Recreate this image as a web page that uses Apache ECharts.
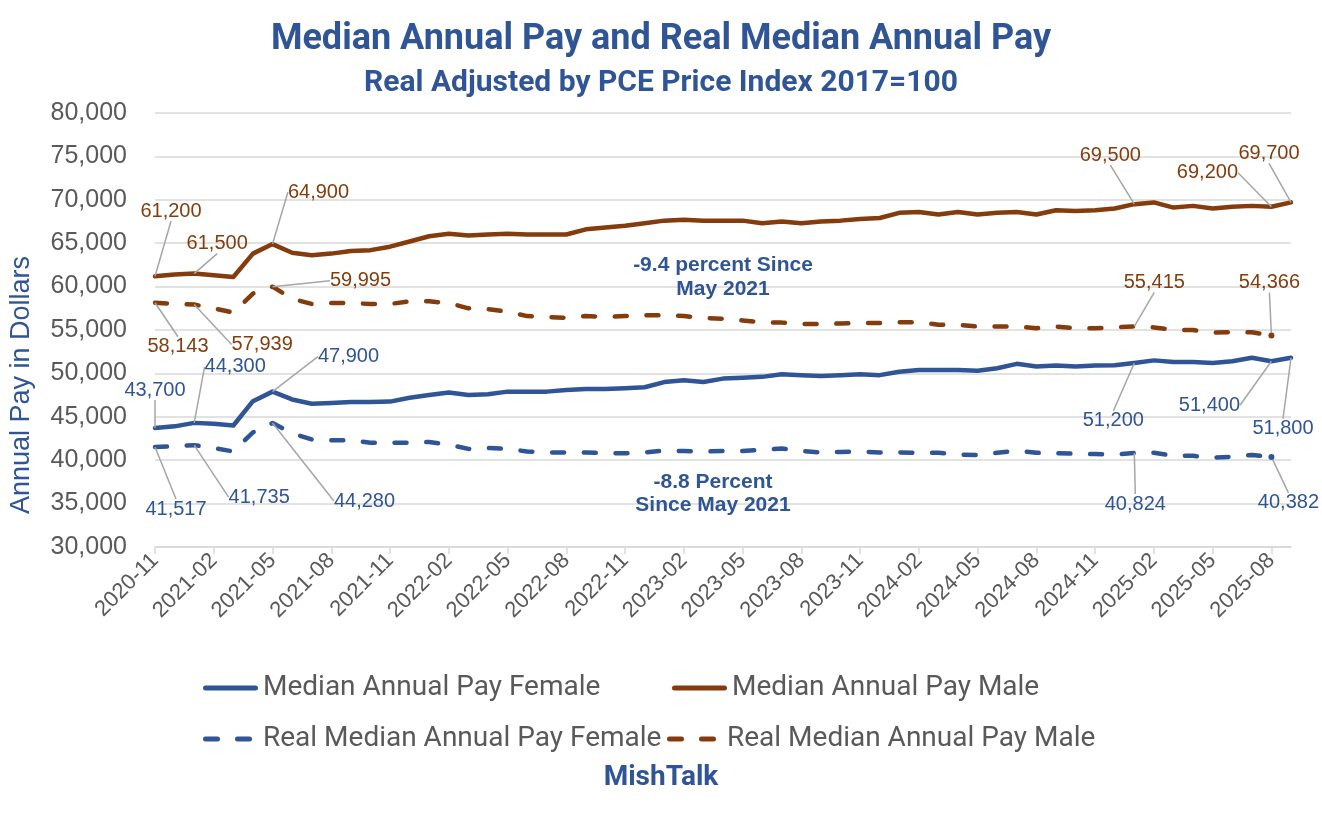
<!DOCTYPE html>
<html>
<head>
<meta charset="utf-8">
<title>Median Annual Pay and Real Median Annual Pay</title>
<script src="https://cdn.jsdelivr.net/npm/echarts@6/dist/echarts.min.js"></script>
<style>
  html, body { margin: 0; padding: 0; background: #fff; }
  #chart { width: 1322px; height: 815px; }
</style>
</head>
<body>
<div id="chart"></div>
<script>
// months on the x axis
const months = [
  "2020-11", "2020-12", "2021-01", "2021-02", "2021-03", "2021-04", "2021-05", "2021-06",
  "2021-07", "2021-08", "2021-09", "2021-10", "2021-11", "2021-12", "2022-01", "2022-02",
  "2022-03", "2022-04", "2022-05", "2022-06", "2022-07", "2022-08", "2022-09", "2022-10",
  "2022-11", "2022-12", "2023-01", "2023-02", "2023-03", "2023-04", "2023-05", "2023-06",
  "2023-07", "2023-08", "2023-09", "2023-10", "2023-11", "2023-12", "2024-01", "2024-02",
  "2024-03", "2024-04", "2024-05", "2024-06", "2024-07", "2024-08", "2024-09", "2024-10",
  "2024-11", "2024-12", "2025-01", "2025-02", "2025-03", "2025-04", "2025-05", "2025-06",
  "2025-07", "2025-08", "2025-09",
];

// median annual pay, dollars
const payFemale = [
  43700, 43900, 44300, 44200, 44000, 46800, 47900, 47000, 46500, 46600, 46700, 46700,
  46750, 47200, 47500, 47800, 47500, 47600, 47900, 47900, 47900, 48100, 48200, 48200,
  48300, 48400, 49000, 49200, 49000, 49400, 49500, 49600, 49900, 49800, 49700, 49800,
  49900, 49800, 50200, 50400, 50400, 50400, 50300, 50600, 51100, 50800, 50900, 50800,
  50900, 50950, 51200, 51500, 51300, 51300, 51200, 51400, 51800, 51400, 51800,
];
const payMale = [
  61200, 61400, 61500, 61300, 61100, 63800, 64900, 63900, 63600, 63800, 64100, 64200,
  64600, 65200, 65800, 66100, 65900, 66000, 66100, 66000, 66000, 66000, 66600, 66800,
  67000, 67300, 67600, 67700, 67600, 67600, 67600, 67300, 67500, 67300, 67500, 67600,
  67800, 67900, 68500, 68600, 68300, 68600, 68300, 68500, 68600, 68300, 68800, 68700,
  68800, 69000, 69500, 69700, 69100, 69300, 69000, 69200, 69300, 69200, 69700,
];
// real median annual pay (PCE 2017=100), no value yet for the last month
const realFemale = [
  41517, 41600, 41735, 41400, 41000, 43200, 44280, 43100, 42400, 42300, 42300, 42000,
  42000, 42000, 42100, 41800, 41300, 41400, 41300, 41000, 40900, 40900, 40900, 40800,
  40800, 40900, 41100, 41050, 41000, 41050, 41050, 41200, 41350, 41050, 40900, 40950,
  41000, 40900, 40900, 40850, 40850, 40650, 40600, 40850, 41100, 40850, 40800, 40750,
  40700, 40650, 40824, 40850, 40500, 40500, 40300, 40400, 40600, 40382, null,
];
const realMale = [
  58143, 58000, 57939, 57500, 57000, 59200, 59995, 58600, 58000, 58100, 58100, 58000,
  58000, 58300, 58300, 58100, 57500, 57400, 57100, 56600, 56500, 56400, 56600, 56500,
  56600, 56700, 56700, 56600, 56400, 56300, 56100, 55900, 55850, 55700, 55700, 55750,
  55800, 55800, 55900, 55900, 55600, 55600, 55400, 55400, 55400, 55200, 55400, 55200,
  55200, 55300, 55415, 55300, 55000, 55000, 54700, 54750, 54750, 54366, null,
];

const yTicks = { min: 30000, max: 80000, step: 5000 };

const seriesNames = [
  "Median Annual Pay Female",
  "Median Annual Pay Male",
  "Real Median Annual Pay Female",
  "Real Median Annual Pay Male",
];

// which points carry a value label, and where the label sits relative to the point (px)
const labelOffsets = [
  { 0: [0, -38], 2: [41, -56], 6: [76, -35], 50: [-21, 58], 57: [-62, 44], 58: [-8, 71] },
  { 0: [16, -65], 2: [23, -30], 6: [46, -52], 50: [-24, -49], 57: [-64, -34], 58: [-22, -49] },
  { 0: [21, 62], 2: [65, 52], 6: [92, 78], 50: [1, 51], 57: [17, 46] },
  { 0: [23, 44], 2: [68, 40], 6: [88, -6], 50: [20, -44], 57: [-2, -53] },
];

const BLUE = "#2F5597";
const BROWN = "#843C0C";
const GREY_TEXT = "#595959";
const GRID = "#D9D9D9";
const LEADER = "#A6A6A6";

// legend keys: a thick bar, or two short dashes
const ICON_SOLID = "path://M2.5,0h50a2.5,2.5 0 0 1 0,5h-50a2.5,2.5 0 0 1 0,-5z";
const ICON_DASH = "path://M2.5,0h12a2.5,2.5 0 0 1 0,5h-12a2.5,2.5 0 0 1 0,-5z M34.5,0h12a2.5,2.5 0 0 1 0,5h-12a2.5,2.5 0 0 1 0,-5z M55,0v5z";

const chart = echarts.init(document.getElementById("chart"));

function makeSeries(idx, values, color, dashed) {
  const offs = labelOffsets[idx];
  return {
    name: seriesNames[idx],
    type: "line",
    data: values.map(function (v, i) {
      if (offs[i] === undefined) return v;
      // labelled points get an (almost) invisible symbol to hang the label on;
      // the real series end in a small dot in the original
      return {
        value: v,
        symbol: "circle",
        symbolSize: dashed && i === 57 ? 6 : 0.01,
        label: { show: true },
      };
    }),
    symbol: "none",
    showSymbol: true,
    smooth: false,
    z: 3,
    lineStyle: {
      color: color,
      width: 4.5,
      type: dashed ? [12, 19.7] : "solid",
      cap: "round",
      join: "round",
    },
    itemStyle: { color: color },
    label: {
      show: false,
      color: color,
      fontSize: 20,
      fontFamily: "Liberation Sans",
      formatter: function (p) {
        return Number(p.value).toLocaleString("en-US");
      },
    },
    labelLine: {
      show: true,
      lineStyle: { color: LEADER, width: 1.5 },
    },
    labelLayout: function (p) {
      const o = offs[p.dataIndex];
      if (!o) return {};
      return {
        x: p.rect.x + p.rect.width / 2 + o[0],
        y: p.rect.y + p.rect.height / 2 + o[1],
        align: "center",
        verticalAlign: "middle",
      };
    },
    emphasis: { disabled: true },
  };
}

function legendFor(name, icon, color, width, left, top) {
  return {
    data: [{ name: name, icon: icon, itemStyle: { color: color } }],
    left: left,
    top: top,
    itemWidth: width,
    itemHeight: 5,
    textStyle: { color: GREY_TEXT, fontSize: 28, fontFamily: "Roboto" },
  };
}

const option = {
  backgroundColor: "#fff",
  animation: false,
  title: [
    {
      text: "Median Annual Pay and Real Median Annual Pay",
      left: "center",
      top: 17,
      textStyle: { color: BLUE, fontSize: 36, fontWeight: "bold", fontFamily: "Roboto" },
    },
    {
      text: "Real Adjusted by PCE Price Index 2017=100",
      left: "center",
      top: 63,
      textStyle: { color: BLUE, fontSize: 30, fontWeight: "bold", fontFamily: "Roboto" },
    },
    {
      text: "MishTalk",
      left: "center",
      top: 759,
      textStyle: { color: BLUE, fontSize: 28, fontWeight: "bold", fontFamily: "Roboto" },
    },
  ],
  legend: [
    legendFor(seriesNames[0], ICON_SOLID, BLUE, 55, 198, 669),
    legendFor(seriesNames[1], ICON_SOLID, BROWN, 55, 667, 669),
    legendFor(seriesNames[2], ICON_DASH, BLUE, 55, 198, 720),
    legendFor(seriesNames[3], ICON_DASH, BROWN, 55, 662, 720),
  ],
  grid: { left: 155, right: 31, top: 113, bottom: 268 },
  xAxis: {
    type: "category",
    data: months,
    boundaryGap: false,
    axisLine: { lineStyle: { color: GRID, width: 1.5 } },
    axisTick: { show: true, interval: 2, length: 7, lineStyle: { color: GRID, width: 1.5 } },
    axisLabel: {
      interval: 2,
      rotate: 45,
      margin: 10,
      color: GREY_TEXT,
      fontSize: 22,
      fontFamily: "Liberation Sans",
    },
    splitLine: { show: false },
  },
  yAxis: {
    type: "value",
    min: yTicks.min,
    max: yTicks.max,
    interval: yTicks.step,
    axisLine: { show: false },
    axisTick: { show: false },
    axisLabel: {
      margin: 28,
      color: GREY_TEXT,
      fontSize: 25,
      fontFamily: "Liberation Sans",
      formatter: function (v) {
        return v.toLocaleString("en-US");
      },
    },
    splitLine: { lineStyle: { color: GRID, width: 1.5 } },
  },
  graphic: [
    {
      type: "text",
      x: 22,
      y: 385,
      rotation: Math.PI / 2,
      style: {
        text: "Annual Pay in Dollars",
        fill: BLUE,
        font: "27px 'Liberation Sans'",
        textAlign: "center",
        textVerticalAlign: "middle",
      },
    },
    {
      type: "text",
      x: 723,
      y: 277,
      z: 10,
      style: {
        text: "-9.4 percent Since\nMay 2021",
        fill: BLUE,
        font: "bold 21px 'Liberation Sans'",
        textAlign: "center",
        textVerticalAlign: "middle",
        lineHeight: 24,
      },
    },
    {
      type: "text",
      x: 713,
      y: 494,
      z: 10,
      style: {
        text: "-8.8 Percent\nSince May 2021",
        fill: BLUE,
        font: "bold 21px 'Liberation Sans'",
        textAlign: "center",
        textVerticalAlign: "middle",
        lineHeight: 23,
      },
    },
  ],
  series: [
    makeSeries(0, payFemale, BLUE, false),
    makeSeries(1, payMale, BROWN, false),
    makeSeries(2, realFemale, BLUE, true),
    makeSeries(3, realMale, BROWN, true),
  ],
};

chart.setOption(option);
</script>
</body>
</html>
